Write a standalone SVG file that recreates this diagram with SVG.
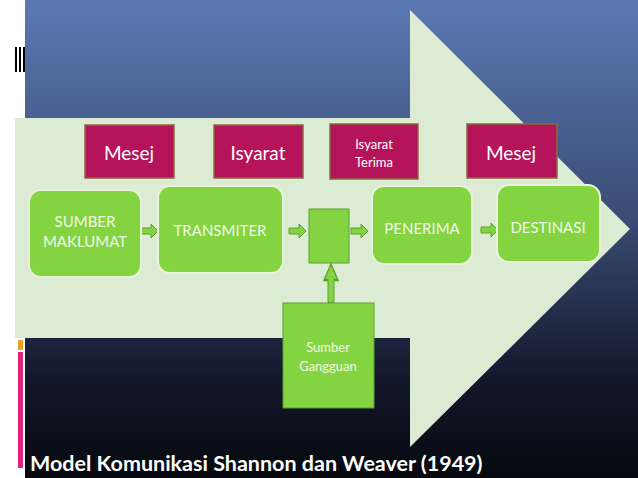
<svg xmlns="http://www.w3.org/2000/svg" width="638" height="478" viewBox="0 0 638 478">
<defs>
<linearGradient id="bg" x1="0" y1="0" x2="0" y2="1">
<stop offset="0" stop-color="#5b79b3"/><stop offset="0.45" stop-color="#3a4d75"/><stop offset="0.8" stop-color="#12172a"/><stop offset="1" stop-color="#07090f"/>
</linearGradient>
<path id="ba" d="M0,-3 H10 V-7 L17,0 L10,7 V3 H0 Z"/>
</defs>
<style>
.m{fill:#b5135a;stroke:#8a6a40;stroke-width:1.5}
.g{fill:#84d442;stroke:#e8f3da;stroke-width:2}
.t{font-family:Lato,"Open Sans",sans-serif;fill:#fff;text-anchor:middle}
.w{font-family:Lato,"Open Sans",sans-serif;fill:#f0f8e8;text-anchor:middle}
.a{fill:#84d442;stroke:#5aa02c;stroke-width:1}
</style>
<rect width="638" height="478" fill="#fff"/>
<rect x="25" y="0" width="613" height="478" fill="url(#bg)"/>
<g fill="#000"><rect x="15" y="47" width="2" height="25"/><rect x="19" y="47" width="2" height="25"/><rect x="23" y="47" width="2" height="25"/></g>
<rect x="18" y="340" width="5" height="10" fill="#f0a020"/>
<rect x="18" y="352" width="5" height="116" fill="#e0207a"/>
<path d="M15,118 H410 V10 L630,229 L410,447 V338 H15 Z" fill="#dcebd4"/>
<g id="connectors">
<use href="#ba" class="a" transform="translate(141,231)"/>
<use href="#ba" class="a" transform="translate(289,231)"/>
<use href="#ba" class="a" transform="translate(351,231)"/>
<use href="#ba" class="a" transform="translate(481,230)"/>
<use href="#ba" class="a" transform="translate(331,303) rotate(-90) scale(2.3,1)"/>
</g>
<g id="mesej1"><rect class="m" x="85" y="125" width="89" height="53"/><text class="t" x="129" y="160" font-size="19">Mesej</text></g>
<g id="isyarat"><rect class="m" x="214" y="125" width="89" height="53"/><text class="t" x="258" y="160" font-size="19">Isyarat</text></g>
<g id="isyarat-terima"><rect class="m" x="330" y="124" width="88" height="55"/><text class="t" x="374" y="149" font-size="13">Isyarat</text><text class="t" x="374" y="167" font-size="13">Terima</text></g>
<g id="mesej2"><rect class="m" x="467" y="124" width="90" height="54"/><text class="t" x="511" y="160" font-size="19">Mesej</text></g>
<g id="sumber"><rect class="g" x="29" y="190" width="112" height="87" rx="12"/><text class="w" x="85" y="227" font-size="15">SUMBER</text><text class="w" x="85" y="247" font-size="15">MAKLUMAT</text></g>
<g id="transmiter"><rect class="g" x="158" y="186" width="125" height="87" rx="12"/><text class="w" x="220" y="236" font-size="15">TRANSMITER</text></g>
<g id="saluran"><rect x="309" y="209" width="40" height="54" fill="#84d442" stroke="#5aa02c" stroke-width="1"/></g>
<g id="penerima"><rect class="g" x="372" y="186" width="100" height="78" rx="12"/><text class="w" x="422" y="234" font-size="15">PENERIMA</text></g>
<g id="destinasi"><rect class="g" x="497" y="185" width="103" height="77" rx="12"/><text class="w" x="548" y="233" font-size="15">DESTINASI</text></g>
<g id="gangguan"><rect x="283" y="303" width="91" height="105" fill="#84d442" stroke="#5aa02c" stroke-width="1"/><text class="w" x="328" y="352" font-size="13">Sumber</text><text class="w" x="328" y="371" font-size="13">Gangguan</text></g>
<text x="30" y="471" font-family="Lato,'Open Sans',sans-serif" font-weight="bold" font-size="21.5" fill="#fff">Model Komunikasi Shannon dan Weaver (1949)</text>
</svg>
